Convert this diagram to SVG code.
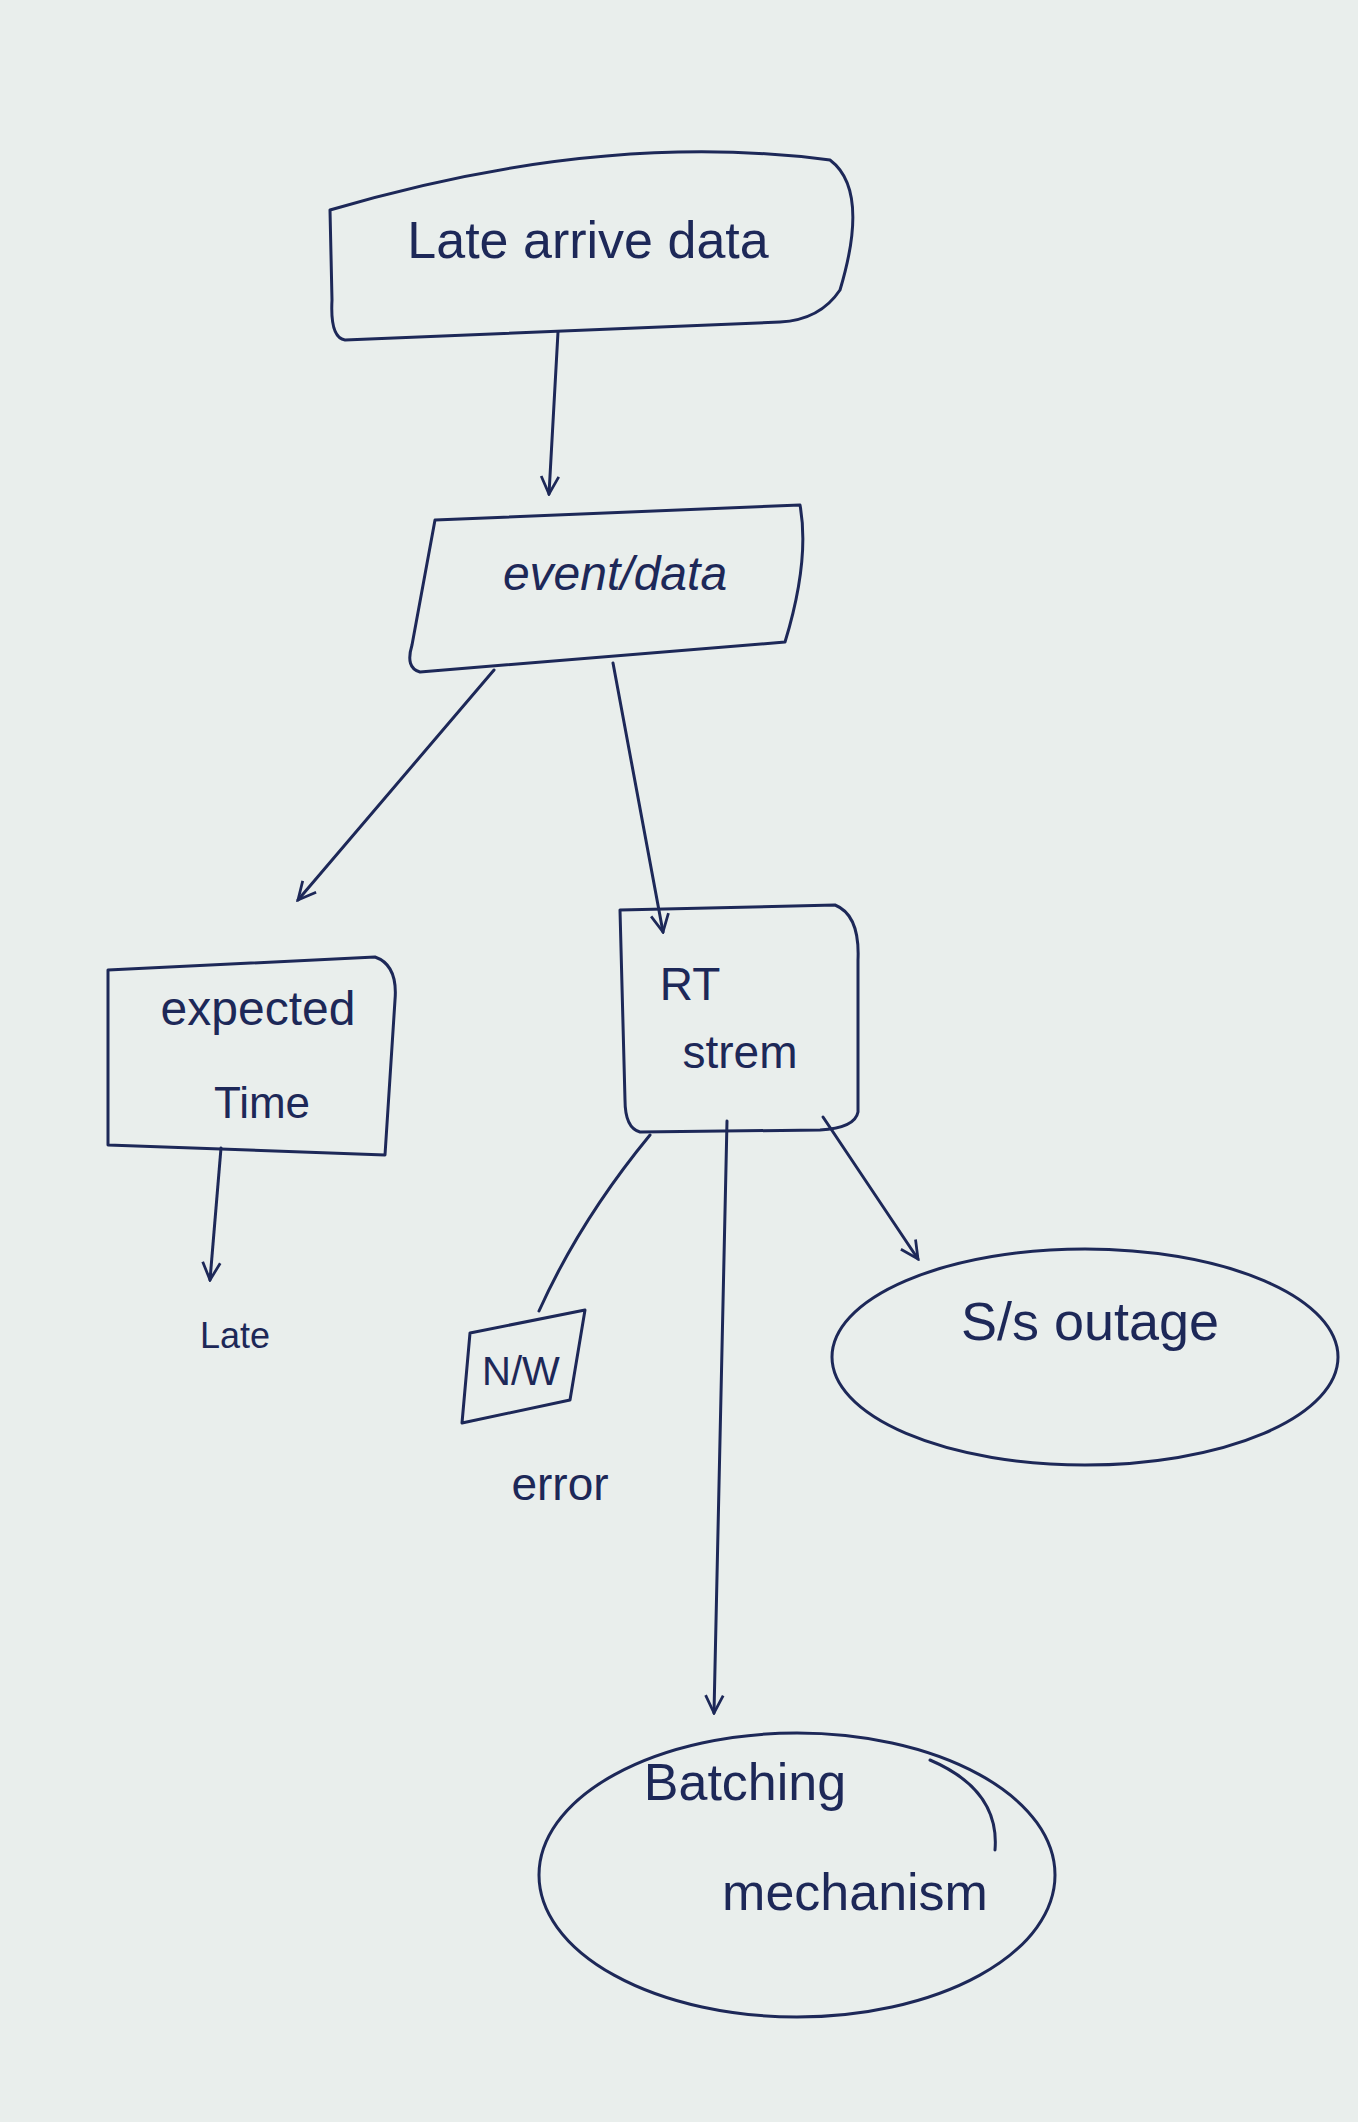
<svg xmlns="http://www.w3.org/2000/svg" width="1358" height="2122" viewBox="0 0 1358 2122">
<style>
.s{fill:none;stroke:#1d2858;stroke-width:3;stroke-linecap:round;stroke-linejoin:round}
.t{font-family:"Liberation Sans",sans-serif;fill:#1d2858;text-anchor:middle}
</style>
<defs>
<marker id="a" viewBox="0 0 20 20" refX="18" refY="10" markerWidth="22" markerHeight="22" orient="auto" markerUnits="userSpaceOnUse">
<path d="M2,2 L18,10 L2,18" fill="none" stroke="#1d2858" stroke-width="2.5"/>
</marker>
</defs>
<rect width="1358" height="2122" fill="#e9eeec"/>
<g id="n1"><path class="s" d="M330,210 Q600,130 830,160 Q870,190 840,290 Q820,320 780,322 L345,340 Q330,338 332,300 Z"/><text class="t" x="588" y="258" font-size="52">Late arrive data</text></g>
<g id="n2"><path class="s" d="M435,520 L800,505 Q810,560 785,642 L420,672 Q405,668 412,645 Z"/><text class="t" x="615" y="590" font-size="48" font-style="italic">event/data</text></g>
<g id="n3"><path class="s" d="M108,970 L375,957 Q398,965 395,1000 L385,1155 L108,1145 Z"/><text class="t" x="258" y="1025" font-size="48">expected</text><text class="t" x="262" y="1118" font-size="44">Time</text></g>
<g id="n4"><path class="s" d="M620,910 L835,905 Q860,915 858,960 L858,1112 Q855,1128 820,1130 L640,1132 Q625,1128 625,1100 Z"/><text class="t" x="690" y="1000" font-size="46">RT</text><text class="t" x="740" y="1068" font-size="46">strem</text></g>
<g id="n5"><path class="s" d="M470,1333 L585,1310 L570,1400 L462,1423 Z"/><text class="t" x="521" y="1385" font-size="40">N/W</text></g>
<text class="t" x="560" y="1500" font-size="46">error</text>
<text class="t" x="235" y="1348" font-size="36">Late</text>
<g id="n6"><ellipse class="s" cx="1085" cy="1357" rx="253" ry="108"/><text class="t" x="1090" y="1340" font-size="54">S/s outage</text></g>
<g id="n7"><ellipse class="s" cx="797" cy="1875" rx="258" ry="142"/><path class="s" d="M930,1760 Q1000,1790 995,1850"/><text class="t" x="745" y="1800" font-size="52">Batching</text><text class="t" x="855" y="1910" font-size="52">mechanism</text></g>
<g id="edges">
<path class="s" d="M558,332 L549,494" marker-end="url(#a)"/>
<path class="s" d="M494,670 L298,900" marker-end="url(#a)"/>
<path class="s" d="M613,663 L663,932" marker-end="url(#a)"/>
<path class="s" d="M221,1148 L210,1280" marker-end="url(#a)"/>
<path class="s" d="M650,1135 Q580,1220 539,1311"/>
<path class="s" d="M727,1121 L714,1713" marker-end="url(#a)"/>
<path class="s" d="M823,1117 L918,1259" marker-end="url(#a)"/>
</g>
</svg>
